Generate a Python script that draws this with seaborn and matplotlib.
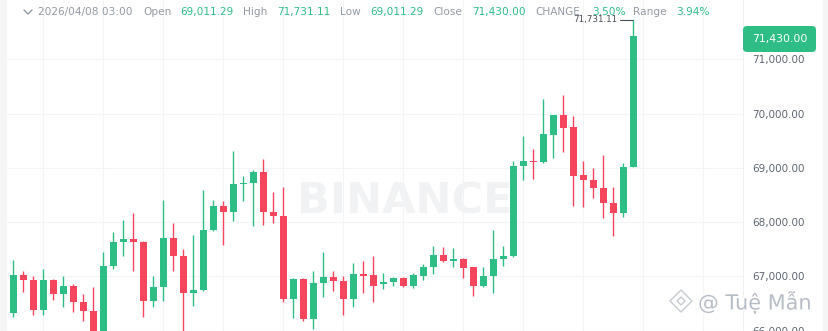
import numpy as np
import pandas as pd
import matplotlib
matplotlib.use("Agg")
import matplotlib.pyplot as plt
import seaborn as sns
from matplotlib.patches import FancyBboxPatch, Rectangle, Polygon
from matplotlib.lines import Line2D
from matplotlib.transforms import IdentityTransform
import matplotlib.patheffects as pe

# ---------------- data ----------------
opens = [66326, 67026, 66934, 66382, 66934, 66676, 66823, 66529, 66363, 65950,
         67191, 67633, 67688, 67633, 66547, 66805, 67706, 67375, 66694, 66750,
         67854, 68295, 68185, 68700, 68718, 68921, 68185, 68111, 66584, 66952,
         66216, 66878, 66989, 66915, 66584, 67044, 67026, 66860, 66897, 66970,
         66823, 67007, 67173, 67394, 67283, 67320, 67173, 66823, 67007, 67320,
         67375, 69031, 69123, 69105, 69602, 69970, 69749, 68866, 68774, 68626,
         68350, 68166, 69011.29]
highs = [67302, 67099, 67007, 67136, 66952, 67007, 66860, 66676, 66805, 67449,
         67817, 68038, 68166, 67650, 67007, 68406, 67982, 67504, 67762, 68590,
         68406, 68387, 69307, 68847, 68958, 69160, 68553, 68645, 66970, 66960,
         67099, 67449, 67099, 67007, 67246, 67283, 67375, 67062, 66990, 66990,
         67062, 67228, 67559, 67541, 67522, 67330, 67180, 67173, 67854, 67559,
         69123, 69583, 69344, 70264, 69975, 70338, 69951, 69123, 68994, 69234,
         68645, 69086, 71731.11]
lows = [66253, 66713, 66290, 66290, 66566, 66437, 66345, 66179, 65850, 65880,
        67136, 67375, 67099, 66253, 66437, 66547, 67099, 65950, 66455, 66730,
        67840, 67578, 68019, 68387, 67927, 67946, 67982, 66529, 66234, 66179,
        66032, 66621, 66731, 66290, 66437, 66694, 66529, 66768, 66823, 66810,
        66786, 66934, 67044, 67270, 67173, 66970, 66639, 66800, 66694, 67191,
        67360, 68774, 68792, 69090, 69178, 69289, 68295, 68277, 68442, 68074,
        67743, 68093, 69011.29]
closes = [67026, 66934, 66382, 66934, 66676, 66823, 66529, 66363, 65950, 67191,
          67633, 67688, 67633, 66547, 66805, 67706, 67375, 66694, 66750, 67854,
          68295, 68185, 68700, 68718, 68921, 68185, 68111, 66584, 66952, 66216,
          66878, 66989, 66915, 66584, 67044, 67007, 66823, 66897, 66970, 66823,
          67026, 67173, 67394, 67283, 67320, 67154, 66823, 67007, 67320, 67375,
          69031, 69123, 69105, 69620, 69970, 69730, 68847, 68774, 68626, 68350,
          68166, 69013, 71430.00]

price_ticks = [66000, 67000, 68000, 69000, 70000, 71000]
header_items = [("2026/04/08 03:00", "gray"), ("Open", "gray"), ("69,011.29", "green"),
                ("High", "gray"), ("71,731.11", "green"), ("Low", "gray"),
                ("69,011.29", "green"), ("Close", "gray"), ("71,430.00", "green"),
                ("CHANGE", "gray"), ("3.50%", "green"), ("Range", "gray"),
                ("3.94%", "green")]
last_close_label = "71,430.00"
high_label = "71,731.11"
high_value = 71731.11

# ---------------- styling ----------------
W, H = 829, 331
GREEN = "#2EBD85"
RED = "#F6465D"
GRAY = "#929AA5"
GRID = "#F3F4F6"

sns.set_theme(style="white")
plt.rcParams["font.family"] = ["DejaVu Sans"]

df = pd.DataFrame({"open": opens, "high": highs, "low": lows, "close": closes})
df["idx"] = np.arange(len(df))
df["up"] = df["close"] >= df["open"]
df["bottom"] = df[["open", "close"]].min(axis=1)
df["height"] = (df["close"] - df["open"]).abs().clip(lower=20)
df["color"] = np.where(df["up"], GREEN, RED)

fig = plt.figure(figsize=(W / 100, H / 100), dpi=100)
fig.patch.set_facecolor("white")
ax = fig.add_axes([7 / W, 0, 736 / W, 1])
ax.set_facecolor("white")

# watermark
ax.text(297 / W, 1 - 202 / H, "BINANCE", transform=fig.transFigure, fontsize=31,
        fontweight="bold", color="#F1F2F4", ha="left", va="center", zorder=0.5)

# wicks and bodies
ax.vlines(df["idx"], df["low"], df["high"], colors=df["color"], linewidth=1.0, zorder=3)
ax.bar(df["idx"], df["height"], bottom=df["bottom"], width=0.7, color=df["color"],
       linewidth=0, zorder=4)

ax.set_xlim(-0.63, 72.97)
ax.set_ylim(65991, 72094)
ax.set_yticks(price_ticks)
ax.set_yticklabels([f"{v:,.2f}" for v in price_ticks])
ax.yaxis.tick_right()
ax.set_xticks(np.arange(3, 73, 6))
ax.tick_params(axis="x", labelbottom=False, length=0)
ax.tick_params(axis="y", length=0, pad=6.5, labelsize=7.5, labelcolor="#5E6673",
               right=False, left=False)
ax.grid(True, color=GRID, linewidth=0.8, zorder=0)
ax.set_axisbelow(True)
for s in ["top", "left", "bottom"]:
    ax.spines[s].set_visible(False)
ax.spines["right"].set_color("#EEF0F2")
ax.spines["right"].set_linewidth(0.8)

# high annotation
ax.plot([60.65, 62], [high_value, high_value], color="#474D57", linewidth=0.8, zorder=5)
ax.text(60.4, high_value, high_label, ha="right", va="center", fontsize=6.3,
        color="#474D57", zorder=5)

# header
ident = IdentityTransform()
header_x = [38, 143, 180, 243, 277, 340, 370, 433, 472, 535, 592, 633, 676]
for (txt, kind), x in zip(header_items, header_x):
    fig.text(x / W, 1 - 12 / H, txt, color=GREEN if kind == "green" else GRAY,
             fontsize=7.6, ha="left", va="center")
fig.add_artist(Line2D([24, 28, 32], [H - 10, H - 14, H - 10], transform=ident,
                      color=GRAY, linewidth=1.0))

# side strips
fig.add_artist(Rectangle((0, 0), 7, H, transform=ident, color="#F5F5F5", zorder=0))
fig.add_artist(Rectangle((823, 0), 6, H, transform=ident, color="#F5F5F5", zorder=0))

# last price box
fig.add_artist(FancyBboxPatch((743, H - 52), 73, 26, boxstyle="round,pad=0,rounding_size=4",
                              transform=ident, facecolor=GREEN, edgecolor="none", zorder=6))
fig.text(779.5 / W, 1 - 39 / H, last_close_label, color="white", fontsize=7.8,
         ha="center", va="center", zorder=7)

# author watermark
cx, cy = 681, H - 301
fig.add_artist(Polygon([[cx - 11, cy], [cx, cy + 11], [cx + 11, cy], [cx, cy - 11]],
                       closed=True, transform=ident, fill=False, edgecolor="#C5CAD0",
                       linewidth=1.0, zorder=6))
fig.add_artist(Polygon([[cx - 4, cy], [cx, cy + 4], [cx + 4, cy], [cx, cy - 4]],
                       closed=True, transform=ident, fill=False, edgecolor="#C5CAD0",
                       linewidth=1.0, zorder=6))
fig.text(698 / W, 1 - 302 / H, "@ Tuệ Mẫn", color="#B7BDC6", fontsize=15,
         ha="left", va="center", zorder=7,
         path_effects=[pe.withStroke(linewidth=2, foreground="white")])

fig.savefig("out.png", dpi=100)
